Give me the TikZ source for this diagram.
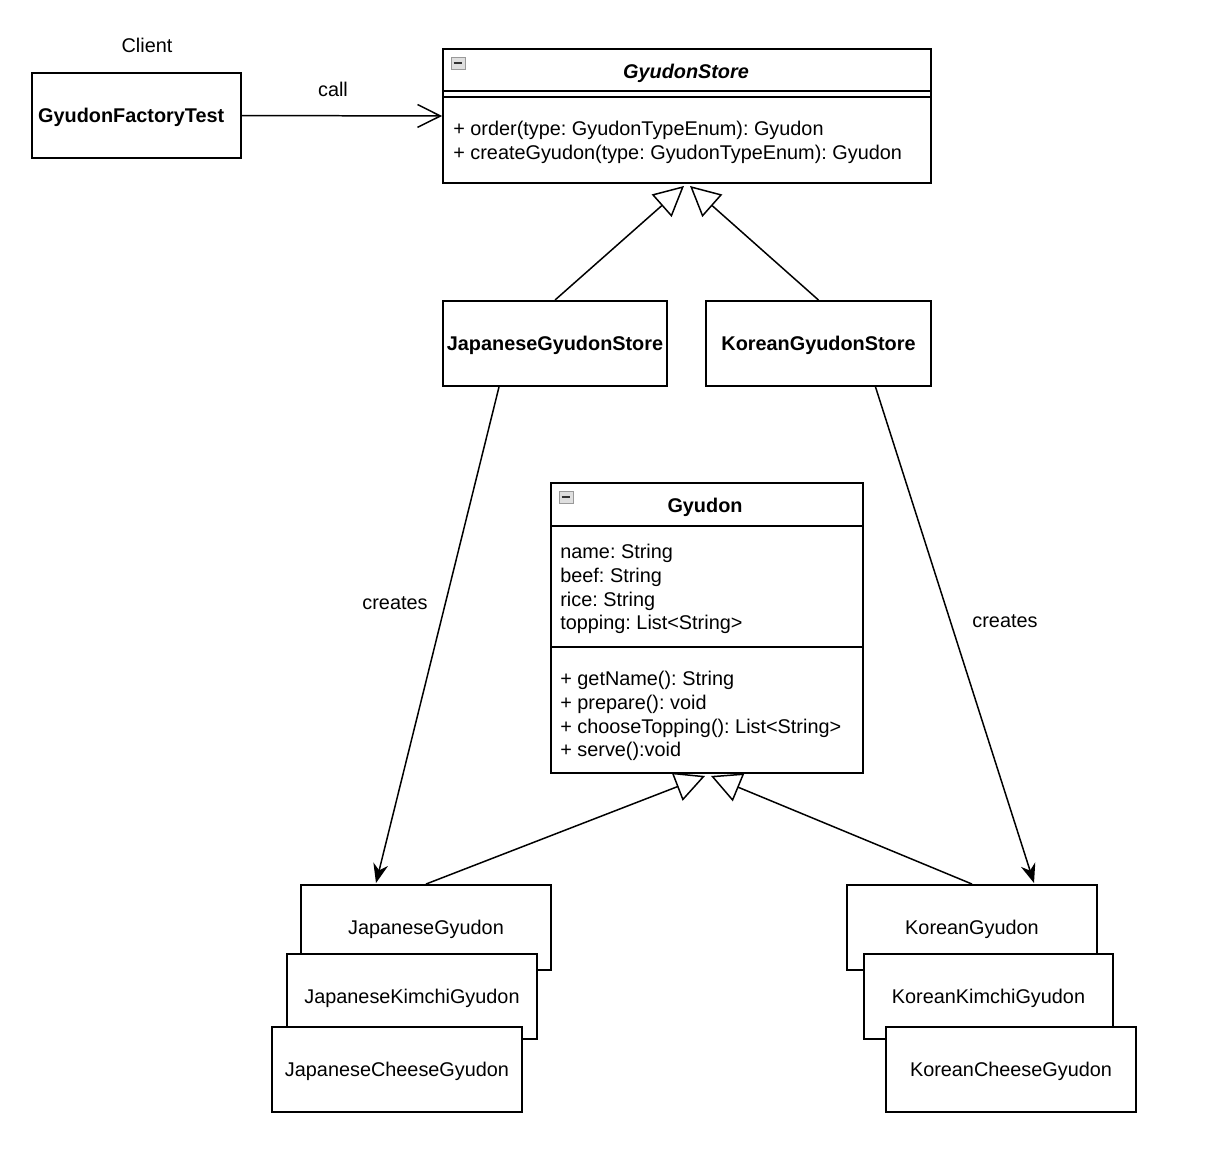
\documentclass[tikz,border=0pt]{standalone}
\usepackage{fontspec}
\setmainfont{Liberation Sans}
\usetikzlibrary{arrows.meta,calc}
\frenchspacing
\begin{document}
\frenchspacing
\begin{tikzpicture}[x=0.02cm,y=-0.02cm,
  txt/.style={font=\fontsize{11.3}{13.6}\selectfont, inner sep=0pt},
  sz/.style 2 args={minimum width=#1*0.02cm, minimum height=#2*0.02cm},
  box/.style={draw, line width=1.1pt, fill=white, inner sep=0pt, text height=11pt, text depth=2.5pt, font=\fontsize{11.3}{13.6}\selectfont},
  sep/.style={line width=1.1pt},
  callarrow/.style={line width=0.85pt, -{Straight Barb[length=13pt,width=13pt,line width=0.85pt]}},
  inh/.style={line width=0.85pt, -{Triangle[open,length=17pt,width=17pt,line width=0.85pt,fill=white]}},
  creates/.style={line width=0.85pt, -{Stealth[length=11pt,width=8.5pt]}},
  minus/.style={draw=gray!80, fill=gray!25, line width=0.4pt, minimum width=14*0.02cm, minimum height=12*0.02cm, inner sep=0pt}
]
\useasboundingbox (0,0) rectangle (1210,1170);

% Client
\node[txt] (client) at (147,45) {Client};
\node[box, sz={209}{85}, font=\fontsize{11.3}{13.6}\selectfont\bfseries] (gft) at (136.5,115.5) {\kern-6pt GyudonFactoryTest};

% GyudonStore
\node[box, sz={488}{134}] (gs) at (687,116) {};
\node[txt, font=\fontsize{11.3}{13.6}\selectfont\bfseries\itshape] (gstitle) at (686,73) {GyudonStore};
\draw[sep] ($(gs.north west)+(0,43)$) -- ($(gs.north east)+(0,43)$);
\draw[sep] ($(gs.north west)+(0,49)$) -- ($(gs.north east)+(0,49)$);
\node[txt, anchor=west, align=left] (gsm) at (453,142) {+ order(type: GyudonTypeEnum): Gyudon\\+ createGyudon(type: GyudonTypeEnum): Gyudon};
\node[minus] (gsicon) at (458,63) {};
\draw[line width=0.8pt, black!80] ($(gsicon.west)+(3,0)$) -- ($(gsicon.east)+(-3,0)$);

% call
\draw[callarrow] (gft.east) -- (gs.west);
\node[txt] (call) at (333,89) {call};

% Stores
\node[box, sz={224}{85}, font=\fontsize{11.3}{13.6}\selectfont\bfseries] (jgs) at (555,343.5) {JapaneseGyudonStore};
\node[box, sz={225}{85}, font=\fontsize{11.3}{13.6}\selectfont\bfseries] (kgs) at (818.5,343.5) {KoreanGyudonStore};
\draw[inh] (jgs.north) -- ($(gs.south)+(-3,2)$);
\draw[inh] (kgs.north) -- ($(gs.south)+(3,2)$);

% Gyudon
\node[box, sz={312}{290}] (gy) at (707,628) {};
\node[txt, font=\fontsize{11.3}{13.6}\selectfont\bfseries] (gytitle) at (705,507) {Gyudon};
\draw[sep] ($(gy.north west)+(0,44)$) -- ($(gy.north east)+(0,44)$);
\draw[sep] ($(gy.north west)+(0,165)$) -- ($(gy.north east)+(0,165)$);
\node[txt, anchor=west, align=left] (gyattr) at (560,589) {name: String\\beef: String\\rice: String\\topping: List<String>};
\node[txt, anchor=west, align=left] (gymeth) at (560,716) {+ getName(): String\\+ prepare(): void\\+ chooseTopping(): List<String>\\+ serve():void};
\node[minus] (gyicon) at (566,497) {};
\draw[line width=0.8pt, black!80] ($(gyicon.west)+(3,0)$) -- ($(gyicon.east)+(-3,0)$);

% Japanese gyudons
\node[box, sz={250}{85}] (jg) at (426,927.5) {JapaneseGyudon};
\node[box, sz={250}{85}] (jkg) at (412,996.5) {JapaneseKimchiGyudon};
\node[box, sz={250}{85}] (jcg) at (397,1069.5) {JapaneseCheeseGyudon};

% Korean gyudons
\node[box, sz={250}{85}] (kg) at (972,927.5) {KoreanGyudon};
\node[box, sz={249}{85}] (kkg) at (988.5,996.5) {KoreanKimchiGyudon};
\node[box, sz={250}{85}] (kcg) at (1011,1069.5) {KoreanCheeseGyudon};

% inheritance to Gyudon
\draw[inh] (jg.north) -- ($(gy.south)+(-2,2)$);
\draw[inh] (kg.north) -- ($(gy.south)+(4,2)$);

% creates
\draw[creates] ($(jgs.south)+(-56,0)$) -- ($(jg.north)+(-50,-1)$);
\node[txt] (cr1) at (395,603) {creates};
\draw[creates] ($(kgs.south)+(57,0)$) -- ($(kg.north)+(62,-1)$);
\node[txt] (cr2) at (1005,621) {creates};
\end{tikzpicture}
\end{document}
